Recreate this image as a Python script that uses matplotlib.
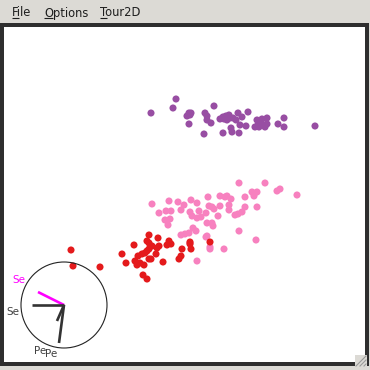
import matplotlib
matplotlib.use("Agg")
import matplotlib.pyplot as plt
from matplotlib.patches import Rectangle, Circle

# ---- data (projected coordinates, in screen pixels) ----
purple_x = [176, 151, 173, 214, 189, 191, 187, 205, 207, 207, 189, 211, 204, 220, 223, 226,
            229, 230, 233, 236, 224, 238, 242, 248, 240, 246, 231, 232, 223, 239, 257, 260,
            262, 267, 258, 255, 262, 267, 265, 259, 278, 284, 284, 315, 227, 190]
purple_y = [99, 113, 108, 106, 113, 113, 116, 113, 116, 120, 124, 123, 134, 119, 117, 116,
            115, 118, 118, 120, 119, 113, 117, 112, 125, 126, 128, 132, 133, 133, 120, 122,
            119, 118, 125, 127, 124, 124, 127, 127, 124, 118, 127, 126, 120, 115]

pink_x = [239, 265, 152, 169, 178, 184, 191, 197, 208, 220, 225, 227, 231, 245, 252, 254,
          257, 254, 277, 280, 297, 159, 166, 171, 181, 190, 192, 199, 206, 197, 201, 209,
          212, 214, 220, 218, 229, 229, 235, 238, 242, 245, 257, 165, 170, 168, 207, 212,
          213, 193, 196, 181, 185, 189, 207, 206, 210, 210, 239, 256, 224, 197, 190]
pink_y = [183, 183, 204, 201, 202, 205, 200, 203, 197, 196, 197, 196, 199, 197, 192, 194,
          192, 196, 191, 189, 195, 213, 211, 211, 210, 212, 216, 211, 213, 218, 217, 206,
          207, 209, 206, 216, 205, 210, 215, 214, 212, 207, 207, 220, 219, 225, 223, 223,
          226, 228, 231, 235, 234, 233, 236, 237, 247, 249, 231, 240, 249, 261, 243]

red_x = [71, 73, 100, 122, 126, 134, 149, 147, 149, 158, 169, 171, 167, 159, 157, 149,
         147, 145, 142, 138, 156, 190, 190, 210, 182, 191, 181, 179, 135, 137, 140, 144,
         149, 151, 163, 143, 147, 152]
red_y = [250, 266, 267, 254, 263, 245, 235, 241, 243, 238, 241, 244, 245, 246, 248, 249,
         251, 253, 254, 256, 254, 242, 244, 242, 249, 249, 256, 259, 261, 265, 263, 265,
         259, 259, 262, 275, 279, 246]

# tour axes: variable labels and projection vector ends (relative to circle centre)
axis_labels = ["Se", "Se", "Pe", "Pe"]
axis_dx = [-26, -32, -7, -5]
axis_dy = [-13, 0, 16, 38]
axis_colors = ["#ff00ff", "#333333", "#333333", "#333333"]
label_pos = [(19, 280), (13, 312), (40, 351), (51, 354)]
label_colors = ["#ff00ff", "#404040", "#404040", "#404040"]

menu_items = ["File", "Options", "Tour2D"]
menu_x = [12, 44, 100]

# ---- figure ----
fig = plt.figure(figsize=(3.7, 3.7), dpi=100)
fig.patch.set_facecolor("#dcdad5")
ax = fig.add_axes([0, 0, 1, 1])
ax.set_xlim(0, 370)
ax.set_ylim(370, 0)
ax.axis("off")

# frame
ax.add_patch(Rectangle((0, 23), 369, 343, facecolor="#2e2e2e", edgecolor="none", zorder=0))
ax.add_patch(Rectangle((4, 27), 361, 335, facecolor="white", edgecolor="none", zorder=0.5))

# menu
for name, x in zip(menu_items, menu_x):
    t = ax.text(x, 13, name, fontsize=8.3, color="#1e1e1e", va="center", ha="left",
                family="DejaVu Sans")
# underline mnemonics
fig.canvas.draw()
r = fig.canvas.get_renderer()
for name, x in zip(menu_items, menu_x):
    tt = ax.text(x, 13, name[0], fontsize=8.3, alpha=0, va="center", ha="left",
                 family="DejaVu Sans")
    bb = tt.get_window_extent(r)
    w = bb.width
    ax.plot([x, x + w], [18, 18], color="#1e1e1e", lw=0.8, solid_capstyle="butt")

# points
ms = 26
ax.scatter(purple_x, purple_y, s=ms, color="#984ea3", edgecolors="none", zorder=3)
ax.scatter(pink_x, pink_y, s=ms, color="#f781bf", edgecolors="none", zorder=3)
ax.scatter(red_x, red_y, s=ms, color="#e41a1c", edgecolors="none", zorder=4)

# tour axes circle
cx, cy, rad = 64, 305, 43
ax.add_patch(Circle((cx, cy), rad, facecolor="none", edgecolor="#222222", lw=0.8, zorder=5))
for dx, dy, c in zip(axis_dx, axis_dy, axis_colors):
    ax.plot([cx, cx + dx], [cy, cy + dy], color=c, lw=1.9, zorder=6, solid_capstyle="butt")
for lab, (lx, ly), c in zip(axis_labels, label_pos, label_colors):
    ax.text(lx, ly, lab, fontsize=7.5, color=c, ha="center", va="center",
            family="DejaVu Sans", zorder=7)

# resize grip
ax.add_patch(Rectangle((355, 355), 12, 12, facecolor="#dcdad5", edgecolor="none", zorder=8))
for k in range(3):
    o = 4 * k
    ax.plot([356 + o, 366], [366, 356 + o], color="#9a9a9a", lw=0.8, zorder=9)

fig.savefig("out.png", dpi=100)
